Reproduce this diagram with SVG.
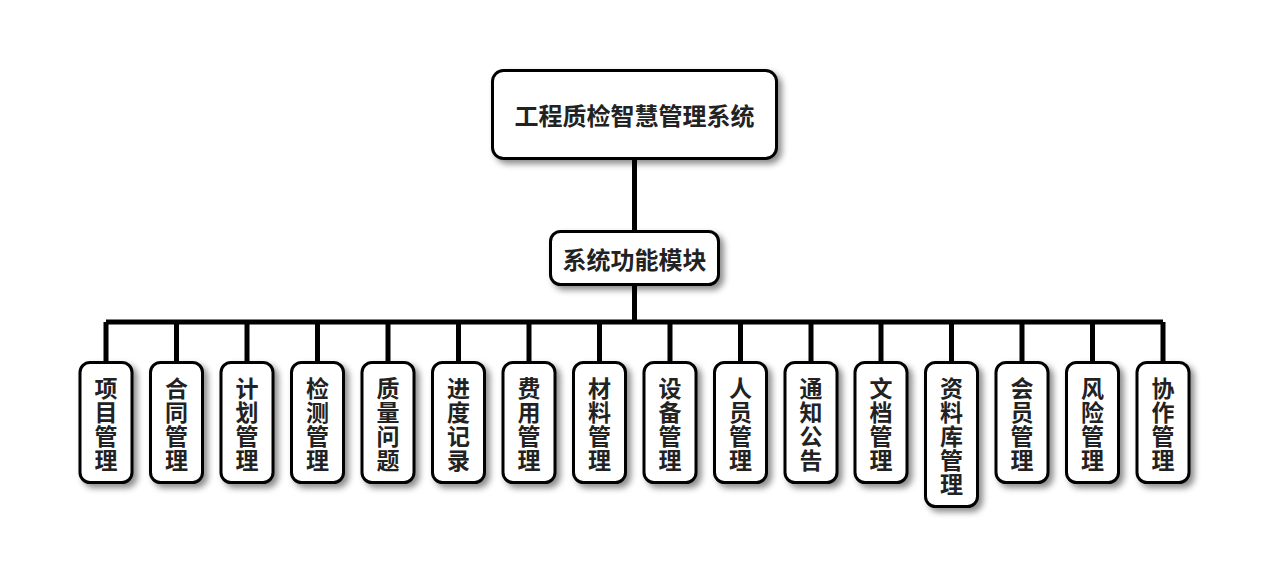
<svg xmlns="http://www.w3.org/2000/svg" width="1269" height="583" viewBox="0 0 1269 583">
<defs>
<style>
.box{fill:#fff;stroke:#000;stroke-width:3;filter:url(#sh)}
.t{font-family:"Noto Sans CJK SC","Noto Sans",sans-serif;font-weight:bold;fill:#222;text-anchor:middle;dominant-baseline:central}
.big{font-size:24px}
.leaf{font-size:23px}
.ln{stroke:#000;stroke-width:5;fill:none}
</style>
<filter id="sh" x="-30%" y="-30%" width="160%" height="160%">
<feDropShadow dx="4" dy="4" stdDeviation="3" flood-color="#000" flood-opacity="0.45"/>
</filter>
</defs>
<g id="connectors">
<path class="ln" d="M634.5 158V231M634.5 285V322M106 322H1163"/>
<path class="ln" d="M106 322V362M176.5 322V362M247 322V362M317.5 322V362M388 322V362M458.5 322V362M529 322V362M599.5 322V362M670 322V362M740.5 322V362M811 322V362M881 322V362M951.5 322V362M1022 322V362M1092.5 322V362M1163 322V362"/>
</g>
<g id="root">
<rect class="box" x="492.5" y="70.5" width="284" height="88" rx="11"/>
<text class="t big" x="634.5" y="114">工程质检智慧管理系统</text>
</g>
<g id="modules">
<rect class="box" x="550.5" y="231.5" width="168" height="53" rx="10"/>
<text class="t big" x="634.5" y="258">系统功能模块</text>
</g>
<g id="n1"><rect class="box" x="80" y="362.5" width="52" height="120" rx="10"/><text class="t leaf"><tspan x="106" y="387">项</tspan><tspan x="106" y="411">目</tspan><tspan x="106" y="435">管</tspan><tspan x="106" y="459">理</tspan></text></g>
<g id="n2"><rect class="box" x="150.5" y="362.5" width="52" height="120" rx="10"/><text class="t leaf"><tspan x="176.5" y="387">合</tspan><tspan x="176.5" y="411">同</tspan><tspan x="176.5" y="435">管</tspan><tspan x="176.5" y="459">理</tspan></text></g>
<g id="n3"><rect class="box" x="221" y="362.5" width="52" height="120" rx="10"/><text class="t leaf"><tspan x="247" y="387">计</tspan><tspan x="247" y="411">划</tspan><tspan x="247" y="435">管</tspan><tspan x="247" y="459">理</tspan></text></g>
<g id="n4"><rect class="box" x="291.5" y="362.5" width="52" height="120" rx="10"/><text class="t leaf"><tspan x="317.5" y="387">检</tspan><tspan x="317.5" y="411">测</tspan><tspan x="317.5" y="435">管</tspan><tspan x="317.5" y="459">理</tspan></text></g>
<g id="n5"><rect class="box" x="362" y="362.5" width="52" height="120" rx="10"/><text class="t leaf"><tspan x="388" y="387">质</tspan><tspan x="388" y="411">量</tspan><tspan x="388" y="435">问</tspan><tspan x="388" y="459">题</tspan></text></g>
<g id="n6"><rect class="box" x="432.5" y="362.5" width="52" height="120" rx="10"/><text class="t leaf"><tspan x="458.5" y="387">进</tspan><tspan x="458.5" y="411">度</tspan><tspan x="458.5" y="435">记</tspan><tspan x="458.5" y="459">录</tspan></text></g>
<g id="n7"><rect class="box" x="503" y="362.5" width="52" height="120" rx="10"/><text class="t leaf"><tspan x="529" y="387">费</tspan><tspan x="529" y="411">用</tspan><tspan x="529" y="435">管</tspan><tspan x="529" y="459">理</tspan></text></g>
<g id="n8"><rect class="box" x="573.5" y="362.5" width="52" height="120" rx="10"/><text class="t leaf"><tspan x="599.5" y="387">材</tspan><tspan x="599.5" y="411">料</tspan><tspan x="599.5" y="435">管</tspan><tspan x="599.5" y="459">理</tspan></text></g>
<g id="n9"><rect class="box" x="644" y="362.5" width="52" height="120" rx="10"/><text class="t leaf"><tspan x="670" y="387">设</tspan><tspan x="670" y="411">备</tspan><tspan x="670" y="435">管</tspan><tspan x="670" y="459">理</tspan></text></g>
<g id="n10"><rect class="box" x="714.5" y="362.5" width="52" height="120" rx="10"/><text class="t leaf"><tspan x="740.5" y="387">人</tspan><tspan x="740.5" y="411">员</tspan><tspan x="740.5" y="435">管</tspan><tspan x="740.5" y="459">理</tspan></text></g>
<g id="n11"><rect class="box" x="785" y="362.5" width="52" height="120" rx="10"/><text class="t leaf"><tspan x="811" y="387">通</tspan><tspan x="811" y="411">知</tspan><tspan x="811" y="435">公</tspan><tspan x="811" y="459">告</tspan></text></g>
<g id="n12"><rect class="box" x="855" y="362.5" width="52" height="120" rx="10"/><text class="t leaf"><tspan x="881" y="387">文</tspan><tspan x="881" y="411">档</tspan><tspan x="881" y="435">管</tspan><tspan x="881" y="459">理</tspan></text></g>
<g id="n13"><rect class="box" x="925.5" y="362.5" width="52" height="144" rx="10"/><text class="t leaf"><tspan x="951.5" y="387">资</tspan><tspan x="951.5" y="411">料</tspan><tspan x="951.5" y="435">库</tspan><tspan x="951.5" y="459">管</tspan><tspan x="951.5" y="483">理</tspan></text></g>
<g id="n14"><rect class="box" x="996" y="362.5" width="52" height="120" rx="10"/><text class="t leaf"><tspan x="1022" y="387">会</tspan><tspan x="1022" y="411">员</tspan><tspan x="1022" y="435">管</tspan><tspan x="1022" y="459">理</tspan></text></g>
<g id="n15"><rect class="box" x="1066.5" y="362.5" width="52" height="120" rx="10"/><text class="t leaf"><tspan x="1092.5" y="387">风</tspan><tspan x="1092.5" y="411">险</tspan><tspan x="1092.5" y="435">管</tspan><tspan x="1092.5" y="459">理</tspan></text></g>
<g id="n16"><rect class="box" x="1137" y="362.5" width="52" height="120" rx="10"/><text class="t leaf"><tspan x="1163" y="387">协</tspan><tspan x="1163" y="411">作</tspan><tspan x="1163" y="435">管</tspan><tspan x="1163" y="459">理</tspan></text></g>
</svg>
